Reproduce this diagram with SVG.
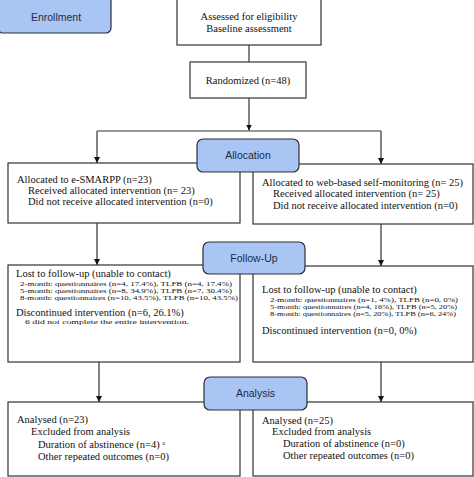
<svg xmlns="http://www.w3.org/2000/svg" width="474" height="477" viewBox="0 0 474 477">
<defs>
<marker id="arr" viewBox="0 0 10 10" refX="10" refY="5" markerWidth="6" markerHeight="6" orient="auto" markerUnits="userSpaceOnUse">
<path d="M0,0 L10,5 L0,10 z" fill="#111"/>
</marker>
<style>
.box{fill:#fff;stroke:#333;stroke-width:1.2}
.stage{fill:#a8c5f3;stroke:#2b2f36;stroke-width:1.2}
.st{font-family:"Liberation Sans",Arial,sans-serif;font-size:10.5px;fill:#1d2b45;text-anchor:middle}
.t{font-family:"Liberation Serif","Times New Roman",serif;font-size:10.5px;fill:#111}
.s{font-family:"Liberation Serif","Times New Roman",serif;font-size:6.8px;fill:#111}
.c{text-anchor:middle}
.ln{fill:none;stroke:#333;stroke-width:1.2}
</style>
</defs>
<rect width="474" height="477" fill="#fff"/>
<g id="connectors">
<path class="ln" d="M249,45 V62"/>
<path class="ln" d="M249,98 V130.5" marker-end="url(#arr)"/>
<path class="ln" d="M97,131 H381"/>
<path class="ln" d="M97,131 V163" marker-end="url(#arr)"/>
<path class="ln" d="M381,131 V164" marker-end="url(#arr)"/>
<path class="ln" d="M97,223 V265" marker-end="url(#arr)"/>
<path class="ln" d="M381,224 V266" marker-end="url(#arr)"/>
<path class="ln" d="M99,362 V402" marker-end="url(#arr)"/>
<path class="ln" d="M381,362 V402" marker-end="url(#arr)"/>
</g>
<g id="enrollment">
<rect class="stage" x="-2" y="-6" width="113" height="39" rx="5"/>
<text class="st" x="56" y="20.5">Enrollment</text>
</g>
<g id="assessed">
<rect class="box" x="177" y="-2" width="144" height="47"/>
<text class="t c" x="249" y="20">Assessed for eligibility</text>
<text class="t c" x="249" y="32">Baseline assessment</text>
</g>
<g id="randomized">
<rect class="box" x="190" y="62" width="116" height="36"/>
<text class="t c" x="248" y="83.5">Randomized (n=48)</text>
</g>
<g id="alloc-left">
<rect class="box" x="8" y="163" width="232" height="60"/>
<text class="t" x="17" y="183">Allocated to e-SMARPP (n=23)</text>
<text class="t" x="28" y="194">Received allocated intervention (n= 23)</text>
<text class="t" x="28" y="205">Did not receive allocated intervention (n=0)</text>
</g>
<g id="alloc-right">
<rect class="box" x="253" y="164" width="220" height="60"/>
<text class="t" x="262" y="186">Allocated to web-based self-monitoring (n= 25)</text>
<text class="t" x="273" y="197">Received allocated intervention (n= 25)</text>
<text class="t" x="273" y="209">Did not receive allocated intervention (n=0)</text>
</g>
<g id="allocation">
<rect class="stage" x="197" y="139" width="102" height="33" rx="6"/>
<text class="st" x="248" y="159">Allocation</text>
</g>
<g id="follow-left">
<rect class="box" x="8" y="265" width="232" height="97"/>
<text class="t" x="16" y="277">Lost to follow-up (unable to contact)</text>
<text class="s" x="20" y="286" textLength="212" lengthAdjust="spacingAndGlyphs">2-month: questionnaires (n=4, 17.4%), TLFB (n=4, 17.4%)</text>
<text class="s" x="20" y="293" textLength="212" lengthAdjust="spacingAndGlyphs">5-month: questionnaires (n=8, 34.9%), TLFB (n=7, 30.4%)</text>
<text class="s" x="20" y="300" textLength="218" lengthAdjust="spacingAndGlyphs">8-month: questionnaires (n=10, 43.5%), TLFB (n=10, 43.5%)</text>
<text class="t" x="16" y="316">Discontinued intervention (n=6, 26.1%)</text>
<text class="s" x="25" y="323.5" textLength="164" lengthAdjust="spacingAndGlyphs">6 did not complete the entire intervention.</text>
</g>
<g id="follow-right">
<rect class="box" x="253" y="266" width="220" height="96"/>
<text class="t" x="262" y="293">Lost to follow-up (unable to contact)</text>
<text class="s" x="270" y="301.5" textLength="188" lengthAdjust="spacingAndGlyphs">2-month: questionnaires (n=1, 4%), TLFB (n=0, 0%)</text>
<text class="s" x="270" y="308.5" textLength="187" lengthAdjust="spacingAndGlyphs">5-month: questionnaires (n=4, 16%), TLFB (n=5, 20%)</text>
<text class="s" x="270" y="315.5" textLength="186" lengthAdjust="spacingAndGlyphs">8-month: questionnaires (n=5, 20%), TLFB (n=6, 24%)</text>
<text class="t" x="262" y="334">Discontinued intervention (n=0, 0%)</text>
</g>
<g id="follow-up">
<rect class="stage" x="203" y="242" width="102" height="32" rx="6"/>
<text class="st" x="254" y="262">Follow-Up</text>
</g>
<g id="analysis-left">
<rect class="box" x="8" y="402" width="232" height="74"/>
<text class="t" x="17" y="423">Analysed (n=23)</text>
<text class="t" x="31" y="435">Excluded from analysis</text>
<text class="t" x="38" y="448">Duration of abstinence (n=4) <tspan font-size="6" dy="-3.5">a</tspan></text>
<text class="t" x="38" y="460">Other repeated outcomes (n=0)</text>
</g>
<g id="analysis-right">
<rect class="box" x="253" y="402" width="220" height="74"/>
<text class="t" x="262" y="424">Analysed (n=25)</text>
<text class="t" x="272" y="435">Excluded from analysis</text>
<text class="t" x="283" y="447">Duration of abstinence (n=0)</text>
<text class="t" x="283" y="459">Other repeated outcomes (n=0)</text>
</g>
<g id="analysis">
<rect class="stage" x="204" y="377" width="103" height="33" rx="6"/>
<text class="st" x="255.5" y="397">Analysis</text>
</g>
</svg>
